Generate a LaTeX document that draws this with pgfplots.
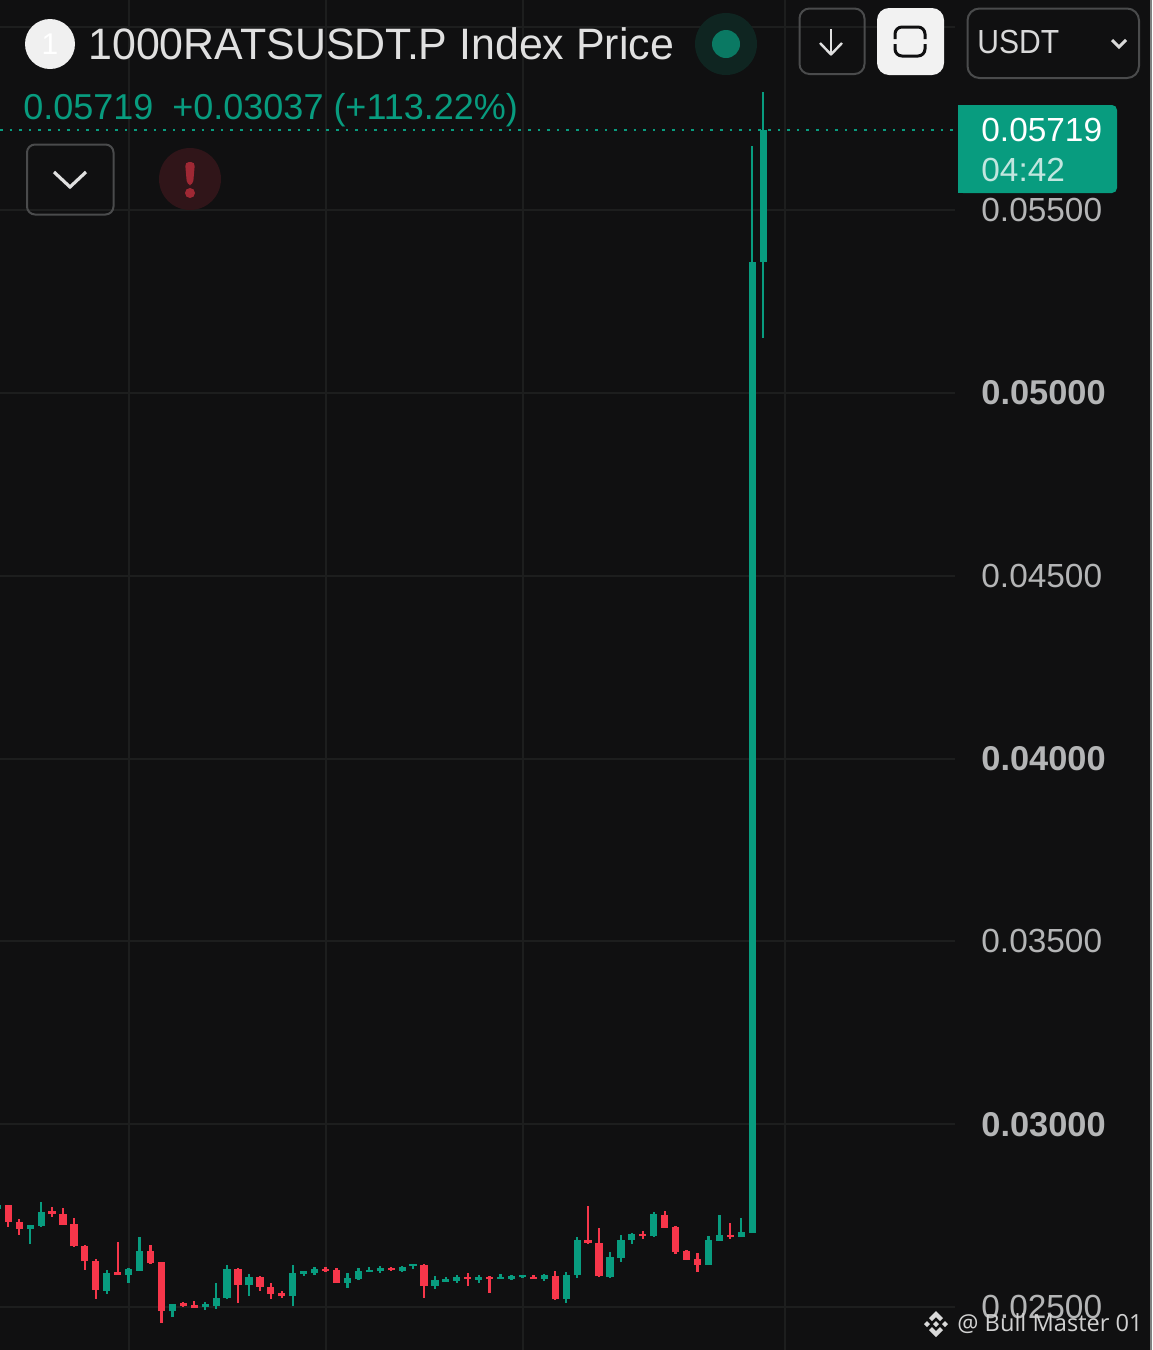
\documentclass[border=0pt]{standalone}
\usepackage{fontspec}
\setmainfont{Liberation Sans}
\newfontfamily\wm{Open Sans}
\usepackage{pgfplots}
\usepackage{pgfplotstable}
\pgfplotsset{compat=1.18}
\definecolor{bg}{HTML}{101011}
\definecolor{gridc}{HTML}{1D1E1E}
\definecolor{up}{HTML}{089C7F}
\definecolor{down}{HTML}{F6364A}
\definecolor{lab}{HTML}{B4B5B6}
\definecolor{btn}{HTML}{4A4B4C}
\pgfplotstableread{
i o h l c
-1 0.02768 0.02779 0.02767 0.02779
2 0.02713 0.02724 0.02672 0.02724
3 0.02722 0.02786 0.02720 0.02760
9 0.02545 0.02601 0.02536 0.02593
11 0.02588 0.02607 0.02565 0.02603
12 0.02599 0.02692 0.02599 0.02652
15 0.02488 0.02507 0.02472 0.02507
18 0.02501 0.02514 0.02492 0.02508
19 0.02503 0.02567 0.02494 0.02525
20 0.02524 0.02615 0.02523 0.02604
22 0.02559 0.02590 0.02529 0.02581
26 0.02530 0.02615 0.02503 0.02593
27 0.02591 0.02599 0.02584 0.02598
28 0.02592 0.02609 0.02588 0.02604
31 0.02566 0.02593 0.02551 0.02580
32 0.02577 0.02606 0.02576 0.02598
33 0.02596 0.02609 0.02596 0.02601
34 0.02598 0.02611 0.02593 0.02607
36 0.02598 0.02613 0.02597 0.02610
37 0.02612 0.02617 0.02604 0.02617
39 0.02557 0.02584 0.02548 0.02574
40 0.02569 0.02581 0.02569 0.02576
41 0.02571 0.02587 0.02567 0.02581
43 0.02574 0.02587 0.02566 0.02582
45 0.02576 0.02591 0.02576 0.02581
46 0.02578 0.02587 0.02577 0.02584
47 0.02581 0.02588 0.02579 0.02587
49 0.02576 0.02589 0.02571 0.02587
51 0.02522 0.02596 0.02510 0.02588
52 0.02587 0.02692 0.02580 0.02682
55 0.02583 0.02650 0.02581 0.02636
56 0.02635 0.02696 0.02624 0.02684
57 0.02683 0.02702 0.02672 0.02699
59 0.02693 0.02759 0.02691 0.02754
64 0.02615 0.02694 0.02615 0.02683
65 0.02681 0.02752 0.02681 0.02696
67 0.02691 0.02743 0.02691 0.02704
68 0.02702 0.05676 0.02702 0.05358
69 0.05358 0.05823 0.05150 0.05719
}\greentable
\pgfplotstableread{
i o h l c
0 0.02779 0.02779 0.02720 0.02732
1 0.02733 0.02740 0.02698 0.02713
4 0.02764 0.02773 0.02746 0.02754
5 0.02754 0.02770 0.02723 0.02724
6 0.02727 0.02743 0.02665 0.02666
7 0.02668 0.02670 0.02601 0.02625
8 0.02626 0.02630 0.02521 0.02546
10 0.02596 0.02677 0.02588 0.02588
13 0.02652 0.02669 0.02619 0.02620
14 0.02622 0.02622 0.02455 0.02489
16 0.02511 0.02515 0.02499 0.02503
17 0.02506 0.02516 0.02497 0.02497
21 0.02604 0.02606 0.02510 0.02560
23 0.02582 0.02584 0.02543 0.02555
24 0.02556 0.02566 0.02522 0.02536
25 0.02539 0.02545 0.02525 0.02529
29 0.02605 0.02609 0.02596 0.02598
30 0.02602 0.02606 0.02566 0.02567
35 0.02607 0.02609 0.02598 0.02600
38 0.02615 0.02617 0.02525 0.02558
42 0.02582 0.02593 0.02557 0.02576
44 0.02582 0.02585 0.02537 0.02576
48 0.02583 0.02588 0.02577 0.02577
50 0.02586 0.02598 0.02519 0.02521
53 0.02683 0.02775 0.02672 0.02676
54 0.02675 0.02716 0.02583 0.02584
58 0.02701 0.02707 0.02686 0.02693
60 0.02753 0.02764 0.02715 0.02717
61 0.02720 0.02722 0.02646 0.02651
62 0.02654 0.02657 0.02629 0.02629
63 0.02630 0.02648 0.02595 0.02615
66 0.02697 0.02730 0.02687 0.02691
}\redtable
\begin{document}
\begin{tikzpicture}[x=0.5pt,y=-0.5pt]
\useasboundingbox (0,0) rectangle (1152,1350);
\fill[bg] (0,0) rectangle (1152,1350);
\fill[black!50] (1150.4,0) rectangle (1152,1350);
\begin{axis}[
  at={(0,0)},anchor=north west,
  scale only axis,width=477.5pt,height=675pt,
  xmin=-0.7587,xmax=86.54,ymin=0.023824,ymax=0.060749,
  axis line style={draw=none},
  major tick length=0pt,
  xtick={11,29,47.07,71},xticklabels={},
  ytick={0.025,0.03,0.035,0.04,0.045,0.05,0.055,0.06},
  yticklabels={0.02500,{\fontsize{17.2}{20}\selectfont\bfseries 0.03000},0.03500,{\fontsize{17.2}{20}\selectfont\bfseries 0.04000},0.04500,{\fontsize{17.2}{20}\selectfont\bfseries 0.05000},0.05500,{}},
  yticklabel pos=right,
  yticklabel style={anchor=west,text=lab,inner sep=0pt,xshift=13pt,font=\fontsize{16.7}{20}\selectfont},
  grid=major,
  grid style={draw=gridc,line width=1pt},
  clip=true,
]
% dotted last-price line
\addplot[up,line width=1.3pt,dash pattern=on 1.3pt off 3.5pt,forget plot] coordinates {(-0.7587,0.05719) (86.54,0.05719)};
% wicks
\addplot[draw=none,no markers,forget plot,error bars/.cd,y dir=both,y explicit,error mark=none,error bar style={draw=up,line width=1.15pt}]
  table[x=i,y=o,y error plus expr=\thisrow{h}-\thisrow{o},y error minus expr=\thisrow{o}-\thisrow{l}] {\greentable};
\addplot[draw=none,no markers,forget plot,error bars/.cd,y dir=both,y explicit,error mark=none,error bar style={draw=down,line width=1.15pt}]
  table[x=i,y=o,y error plus expr=\thisrow{h}-\thisrow{o},y error minus expr=\thisrow{o}-\thisrow{l}] {\redtable};
% bodies
\addplot[draw=none,no markers,forget plot,error bars/.cd,y dir=plus,y explicit,error mark=none,error bar style={draw=up,line width=3.6pt}]
  table[x=i,y=o,y error plus expr=\thisrow{c}-\thisrow{o},y error minus expr=0] {\greentable};
\addplot[draw=none,no markers,forget plot,error bars/.cd,y dir=plus,y explicit,error mark=none,error bar style={draw=down,line width=3.6pt}]
  table[x=i,y=c,y error plus expr=\thisrow{o}-\thisrow{c},y error minus expr=0] {\redtable};
\end{axis}
% header
\fill[black!6] (50,44) circle (25);
\node[anchor=center,text=white,inner sep=0pt,font=\fontsize{15}{18}\selectfont] at (50,44) {1};
\node[anchor=west,inner sep=0pt,text=white!88!black,font=\fontsize{22}{26}\selectfont] at (88,44) {\scalebox{0.975}[1]{1000RATSUSDT.P Index Price}};
\fill[up!15!bg] (726,44) circle (31);
\fill[up!75!bg] (726,44) circle (14);
\node[anchor=base west,inner sep=0pt,text=up,font=\fontsize{18}{22}\selectfont] at (23,119) {0.05719};
\node[anchor=base west,inner sep=0pt,text=up,font=\fontsize{18}{22}\selectfont] at (172,119) {+0.03037 (+113.22\%)};
% down button
\draw[btn,line width=1pt,rounded corners=5pt] (799.5,8.5) rectangle (864.5,74);
\draw[white!88!black,line width=1.2pt] (831,29) -- (831,54);
\draw[white!88!black,line width=1.2pt,line join=round] (820,43) -- (831,54.5) -- (842,43);
% white button
\fill[black!5,rounded corners=6pt] (877,8) rectangle (944,75);
\draw[bg,line width=1.5pt,rounded corners=3.5pt] (895,39) -- (895,27) -- (925,27) -- (925,39);
\draw[bg,line width=1.5pt,rounded corners=3.5pt] (895,44) -- (895,56) -- (925,56) -- (925,44);
% USDT
\draw[btn,line width=1pt,rounded corners=6pt] (967.5,8.5) rectangle (1139,78);
\node[anchor=west,inner sep=0pt,text=white!85!black,font=\fontsize{16.7}{20}\selectfont] at (977,42) {\scalebox{0.9}[1]{USDT}};
\draw[white!85!black,line width=1.5pt] (1112,40) -- (1119,47) -- (1126,40);
% price tag
\fill[up,rounded corners=2.5pt] (958,105) -- (1117,105) -- (1117,193) -- (958,193) -- cycle;
\fill[up] (958,105) rectangle (970,193);
\node[anchor=west,inner sep=0pt,text=white,font=\fontsize{16.7}{20}\selectfont] at (981,130) {0.05719};
\node[anchor=west,inner sep=0pt,text=white!75!up,font=\fontsize{16.7}{20}\selectfont] at (981,170) {04:42};
% chevron button
\draw[btn,line width=1pt,rounded corners=4pt] (27,144.5) rectangle (113.5,214.5);
\draw[white!88!black,line width=1.6pt] (54,172) -- (70,187) -- (86,172);
% alert
\fill[down!14!bg] (190,179) circle (31);
\fill[down!62!bg,rounded corners=2pt] (185,162) -- (195,162) -- (193,185) -- (187,185) -- cycle;
\fill[down!62!bg] (190,193) circle (5);
% watermark
\begin{scope}[white!85!black]
\fill (936,1311) -- (943,1318) -- (940,1321) -- (936,1317) -- (932,1321) -- (929,1318) -- cycle;
\fill (936,1337) -- (943,1330) -- (940,1327) -- (936,1331) -- (932,1327) -- (929,1330) -- cycle;
\fill (936,1321) -- (939,1324) -- (936,1327) -- (933,1324) -- cycle;
\fill (927,1321) -- (930,1324) -- (927,1327) -- (924,1324) -- cycle;
\fill (945,1321) -- (948,1324) -- (945,1327) -- (942,1324) -- cycle;
\end{scope}
\node[anchor=west,inner sep=0pt,text=white!82!black,font=\wm\fontsize{11.8}{14}\selectfont] at (957,1324) {@ Bull Master 01};
\end{tikzpicture}
\end{document}
